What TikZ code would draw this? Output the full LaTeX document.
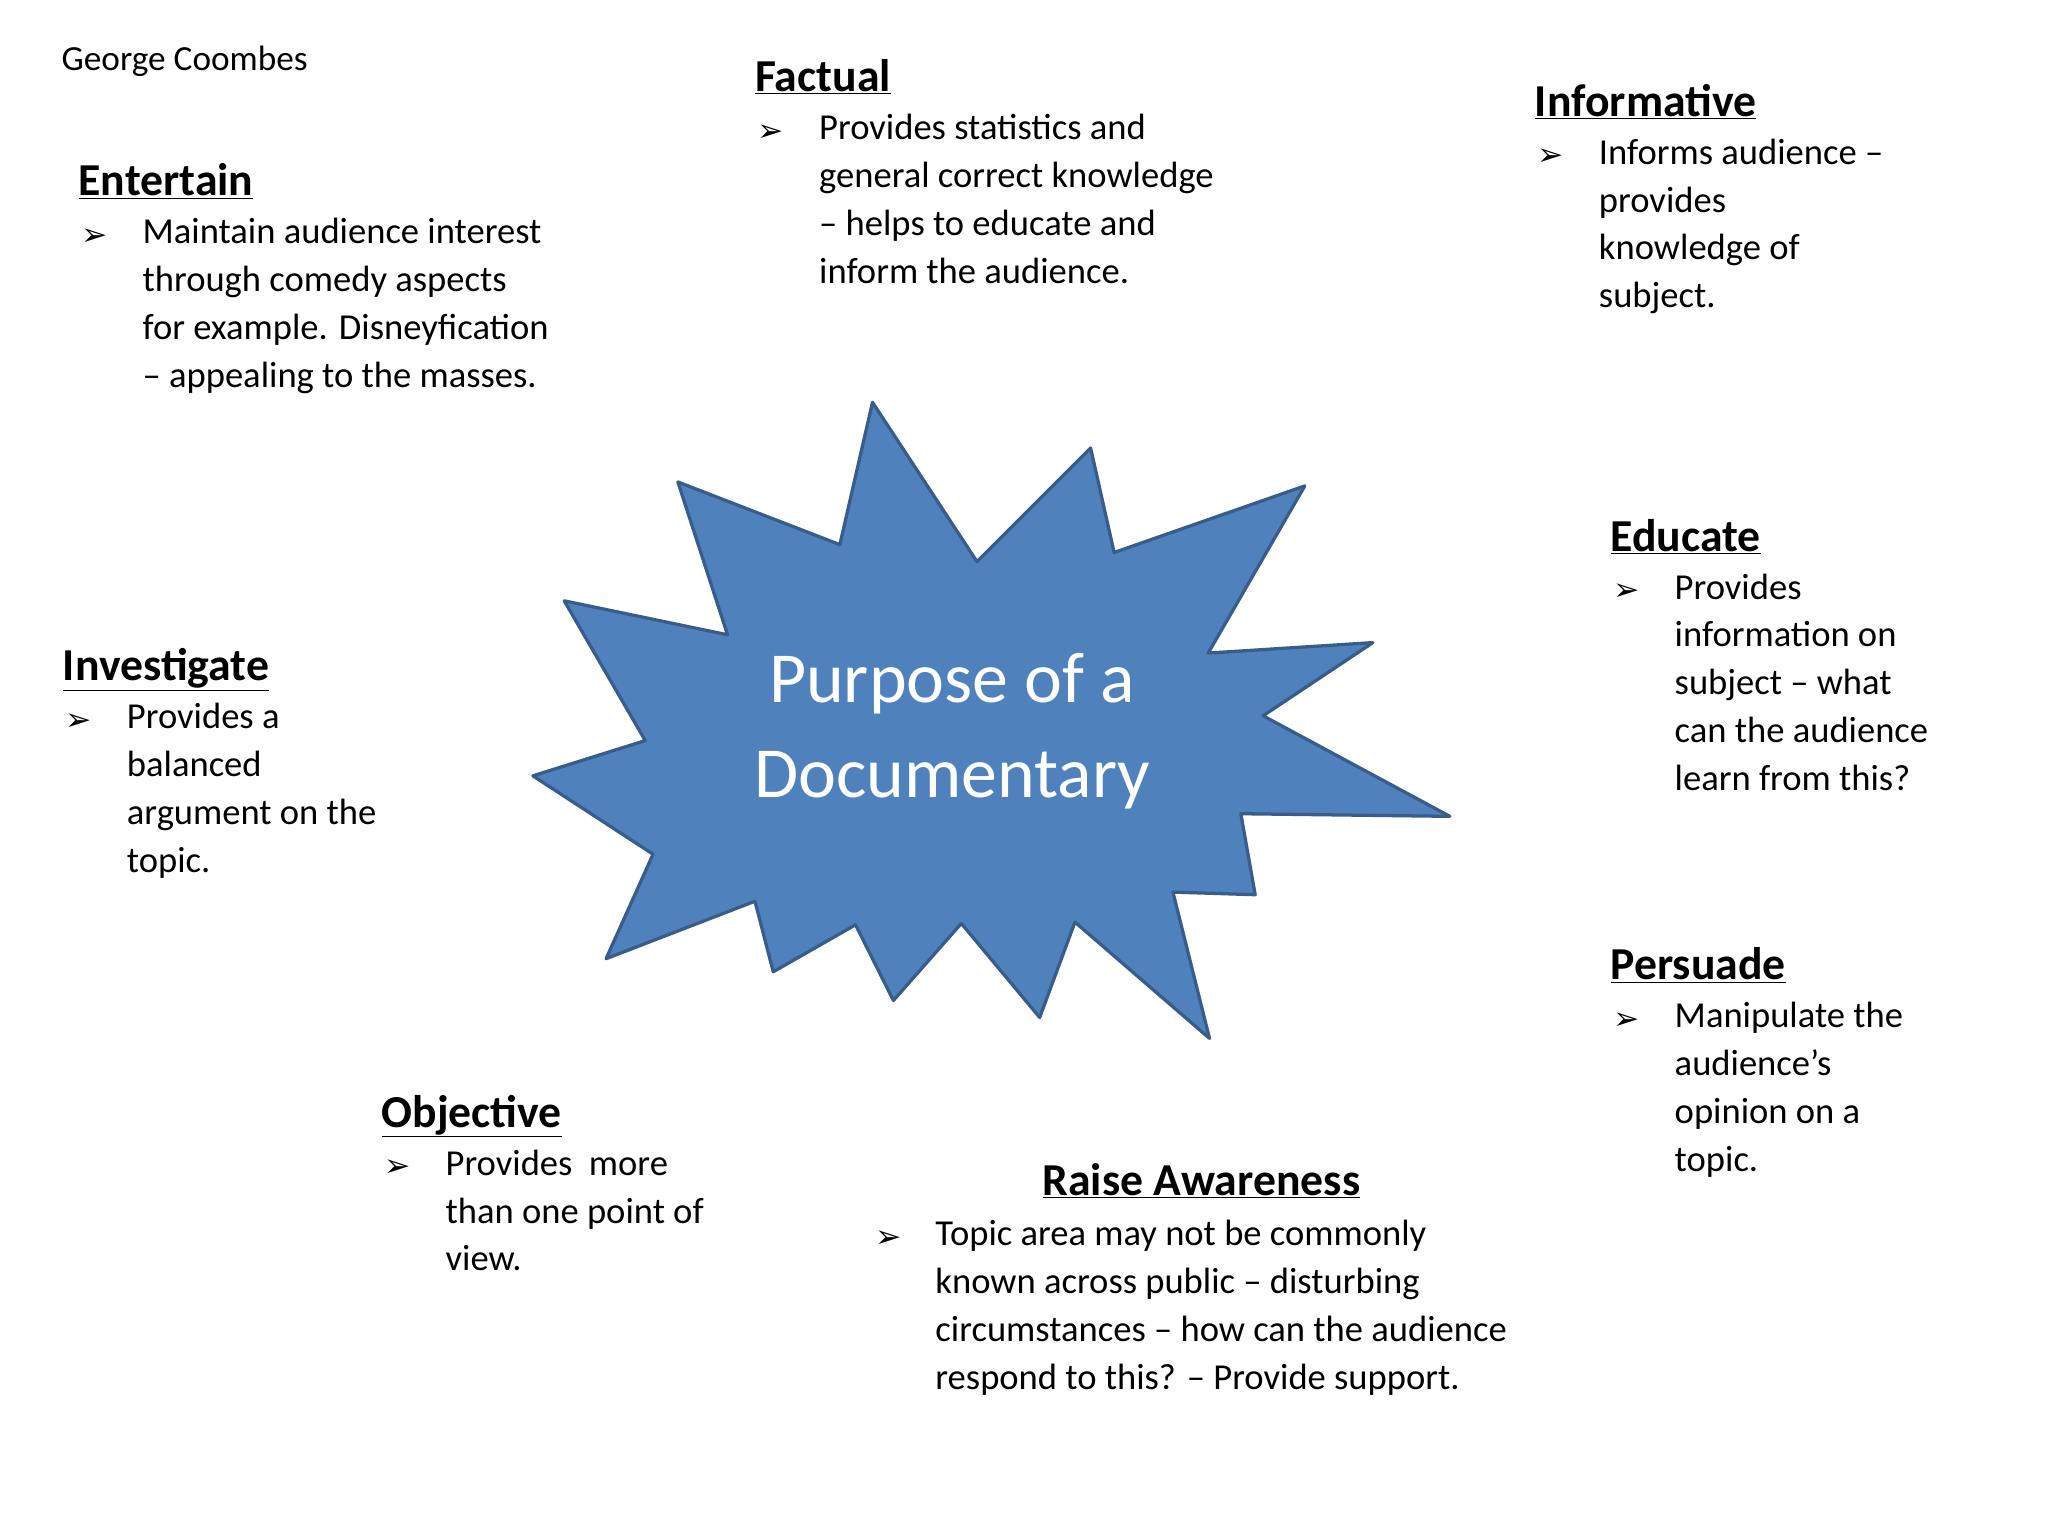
\documentclass[tikz,border=0pt]{standalone}
\usepackage{fontspec}
\setmainfont{Carlito}
\newfontfamily\symf{DejaVu Sans}
\begin{document}
\begin{tikzpicture}[x=1pt,y=-1pt,
  head/.style={anchor=base west,inner sep=0,font=\fontsize{35}{40}\selectfont\bfseries},
  bul/.style={anchor=base west,inner sep=0,font=\symf\fontsize{24}{30}\selectfont},
  body/.style={anchor=north west,inner sep=0,align=left,font=\fontsize{28}{36.7}\selectfont}]
\useasboundingbox (0,0) rectangle (1568,1176);
\fill[white] (0,0) rectangle (1568,1176);
\newcommand\blk[6]{%
  \node[head] at (#1,#2) {\underline{#5}};
  \node[bul] at (#3,#2+38) {➢};
  \node[body] at (#4,#2+38-21) {#6};}
\node[anchor=base west,inner sep=0,font=\fontsize{27}{32}\selectfont] (gc) at (47,54) {George Coombes};
\draw[fill={rgb,255:red,79;green,129;blue,189},draw={rgb,255:red,56;green,93;blue,138},line width=2.5pt,line join=round]
(668,308)--(748,430)--(835,343)--(853,423)--(999,372)--(925,500)--(1051,492)--(967,548)--(1110,625)--(950,623)--(961,685)--(898,683)--(926,795)--(823,706)--(796,779)--(736,707)--(684,766)--(655,708)--(592,744)--(578,690)--(464,734)--(500,654)--(408,594)--(494,567)--(432,460)--(557,486)--(519,369)--(643,417)--cycle;
\node[white,inner sep=0,align=center,font=\fontsize{55}{73}\selectfont] (c) at (729,560) {Purpose of a\\Documentary};
\blk{60}{150}{62}{109}{Entertain}{Maintain audience interest\\through comedy aspects\\for example. Disneyfication\\-- appealing to the masses.}
\blk{578}{70}{580}{627}{Factual}{Provides statistics and\\general correct knowledge\\-- helps to educate and\\inform the audience.}
\blk{1175}{89}{1177}{1224}{Informative}{Informs audience --\\provides\\knowledge of\\subject.}
\blk{1233}{422}{1235}{1282}{Educate}{Provides\\information on\\subject -- what\\can the audience\\learn from this?}
\blk{48}{521}{50}{97}{Investigate}{Provides a\\balanced\\argument on the\\topic.}
\blk{1233}{750}{1235}{1282}{Persuade}{Manipulate the\\audience’s\\opinion on a\\topic.}
\blk{292}{863}{294}{341}{Objective}{Provides~ more\\than one point of\\view.}
\node[head] (ra) at (798,915) {\underline{Raise Awareness}};
\node[bul] (rab) at (670,955) {➢};
\node[body] (rat) at (716,934) {Topic area may not be commonly\\known across public -- disturbing\\circumstances -- how can the audience\\respond to this? -- Provide support.};
\end{tikzpicture}
\end{document}
